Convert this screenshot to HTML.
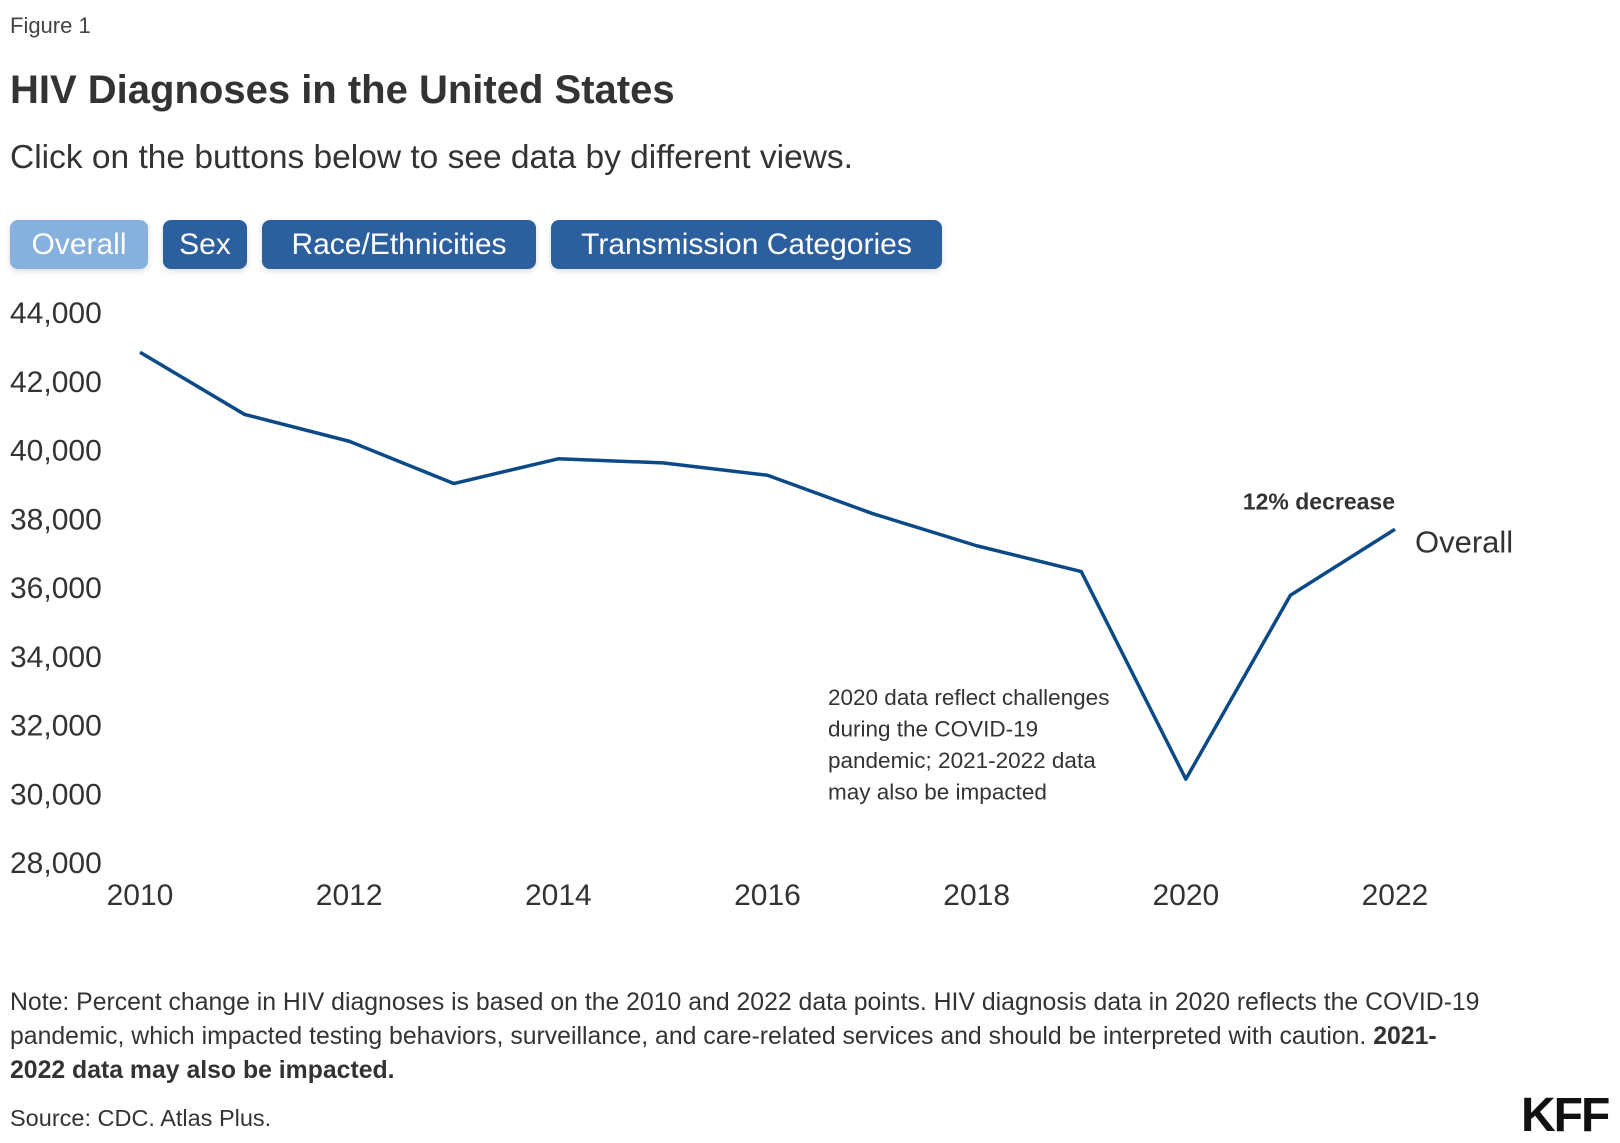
<!DOCTYPE html>
<html><head><meta charset="utf-8"><style>
body{margin:0;background:#fff;width:1620px;height:1142px;overflow:hidden;font-family:"Liberation Sans",sans-serif;color:#333;position:relative}
.a{position:absolute;white-space:nowrap}
.btn{position:absolute;top:220px;height:49px;border-radius:8px;background:#2c5f9e;color:#fff;font-size:30px;line-height:49px;text-align:center;box-shadow:0 2px 6px rgba(0,0,0,.15)}
</style></head><body>
<div class="a" style="left:10px;top:13px;font-size:22px;color:#444">Figure 1</div>
<div class="a" style="left:10px;top:68px;font-size:40px;font-weight:bold;color:#333">HIV Diagnoses in the United States</div>
<div class="a" style="left:10px;top:139px;font-size:33.5px;color:#333">Click on the buttons below to see data by different views.</div>
<div class="btn" style="left:10px;width:138px;background:#86b0dd">Overall</div>
<div class="btn" style="left:163px;width:84px">Sex</div>
<div class="btn" style="left:262px;width:274px">Race/Ethnicities</div>
<div class="btn" style="left:551px;width:391px">Transmission Categories</div>
<svg id="chart" width="1620" height="950" style="position:absolute;left:0;top:0"></svg>
<div class="a" style="left:10px;top:986px;font-size:24.8px;line-height:34px;color:#333">Note: Percent change in HIV diagnoses is based on the 2010 and 2022 data points. HIV diagnosis data in 2020 reflects the COVID-19<br>pandemic, which impacted testing behaviors, surveillance, and care-related services and should be interpreted with caution. <b>2021-</b><br><b>2022 data may also be impacted.</b></div>
<div class="a" style="left:10px;top:1105px;font-size:23.5px;color:#333">Source: CDC. Atlas Plus.</div>
<div class="a" style="left:1521px;top:1088px;font-size:48px;font-weight:bold;color:#111;letter-spacing:-2px">KFF</div>
<script>
const years=[2010,2011,2012,2013,2014,2015,2016,2017,2018,2019,2020,2021,2022];
const values=[42830,41020,40240,39010,39730,39610,39250,38140,37200,36450,30410,35760,37680];
const yTicks=[28000,30000,32000,34000,36000,38000,40000,42000,44000];
const xTicks=[2010,2012,2014,2016,2018,2020,2022];
const NS="http://www.w3.org/2000/svg";
const svg=document.getElementById('chart');
const x=v=>140+(v-2010)*(1395-140)/12;
const y=v=>862-(v-28000)*(862-312)/16000;
function t(px,py,s,opts){const e=document.createElementNS(NS,'text');e.setAttribute('x',px);e.setAttribute('y',py);e.textContent=s;
e.setAttribute('font-family','Liberation Sans, sans-serif');for(const k in opts)e.setAttribute(k,opts[k]);svg.appendChild(e);return e;}
yTicks.forEach(v=>{const e=t(10,y(v)+11,v.toLocaleString('en-US'),{'font-size':30,fill:'#333'});

});
xTicks.forEach(v=>{const e=t(x(v),905,String(v),{'font-size':30,fill:'#333','text-anchor':'middle'});

});
const p=document.createElementNS(NS,'polyline');
p.setAttribute('points',years.map((yr,i)=>x(yr)+','+y(values[i])).join(' '));
p.setAttribute('fill','none');p.setAttribute('stroke','#0b4a87');p.setAttribute('stroke-width','3.5');p.setAttribute('stroke-linejoin','round');


svg.appendChild(p);
const last=values.length-1;
let e=t(x(years[last]),y(values[last])-20,'12% decrease',{'font-size':23,'font-weight':'bold',fill:'#333','text-anchor':'end'});


e=t(x(years[last])+20,y(values[last])+23,'Overall',{'font-size':31,fill:'#333'});


['2020 data reflect challenges','during the COVID-19','pandemic; 2021-2022 data','may also be impacted'].forEach((s,i)=>{
const a=t(828,705+i*31.5,s,{'font-size':22.5,fill:'#333'});

});
</script>
</body></html>
